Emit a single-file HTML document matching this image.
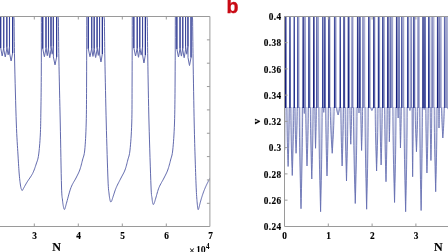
<!DOCTYPE html>
<html><head><meta charset="utf-8"><style>
html,body{margin:0;padding:0;background:#fff;}
body{width:448px;height:252px;overflow:hidden;position:relative;}
svg{position:absolute;left:0;top:0;}
.t{font-family:"Liberation Serif",serif;font-weight:bold;font-size:9.3px;fill:#000;stroke:#000;stroke-width:0.14px;}
</style></head><body>
<svg width="448" height="252" viewBox="0 0 448 252">
<defs>
<clipPath id="cl"><rect x="-100" y="16" width="309.9" height="210.5"/></clipPath>
<linearGradient id="wg" x1="0" y1="0" x2="0" y2="1"><stop offset="0" stop-color="#fff" stop-opacity="0.2"/><stop offset="0.5" stop-color="#fff" stop-opacity="0.06"/><stop offset="1" stop-color="#fff" stop-opacity="0"/></linearGradient>
<linearGradient id="vg" x1="0" y1="0" x2="0" y2="1"><stop offset="0" stop-color="rgb(228,230,242)"/><stop offset="0.6" stop-color="rgb(180,186,218)"/><stop offset="0.85" stop-color="rgb(130,140,195)"/><stop offset="1" stop-color="rgb(45,60,150)"/></linearGradient>
<clipPath id="cr"><rect x="284.5" y="16" width="320" height="210.5"/></clipPath>
</defs>
<g>
<g clip-path="url(#cl)">
<path d="M-0.5,0 L0.75,0 L0.75,48 L2,55.2 L2.2,56 L2.4,55.2 L3.65,48 L3.65,0 L3.75,0 L3.75,49 L5.05,56.2 L5.25,57 L5.45,56.2 L6.75,49 L6.75,0 L6.85,0 L6.85,46.8 L7.95,54 L8.15,54.8 L8.35,54 L9.45,46.8 L9.45,0 L9.55,0 L9.55,53 L10.9,60.2 L11.1,61 L11.3,60.2 L12.65,53 L12.65,0 L14.1,20 L14.13,22.93 L14.16,26.65 L14.2,31.06 L14.24,36.06 L14.3,41.56 L14.38,47.45 L14.48,53.63 L14.6,60 L14.76,66.99 L14.94,74.86 L15.15,83.3 L15.38,92 L15.61,100.63 L15.85,108.89 L16.08,116.45 L16.3,123 L16.52,128.57 L16.73,133.46 L16.96,137.8 L17.18,141.69 L17.39,145.24 L17.6,148.57 L17.81,151.79 L18,155 L18.18,158.14 L18.35,161.05 L18.52,163.77 L18.67,166.31 L18.83,168.69 L18.98,170.91 L19.14,173.01 L19.3,175 L19.46,176.85 L19.63,178.55 L19.8,180.09 L19.96,181.5 L20.13,182.78 L20.29,183.95 L20.45,185.02 L20.6,186 L20.75,186.86 L20.9,187.58 L21.04,188.18 L21.19,188.67 L21.33,189.08 L21.46,189.42 L21.58,189.72 L21.7,190 L21.8,190.23 L21.9,190.38 L21.98,190.47 L22.06,190.51 L22.13,190.5 L22.21,190.45 L22.3,190.38 L22.4,190.3 L22.49,190.22 L22.57,190.13 L22.64,190.02 L22.72,189.87 L22.82,189.67 L22.96,189.4 L23.15,189.05 L23.4,188.6 L23.71,188.04 L24.07,187.38 L24.47,186.65 L24.91,185.84 L25.39,184.97 L25.9,184.07 L26.44,183.14 L27,182.2 L27.62,181.23 L28.31,180.21 L29.04,179.14 L29.8,178.04 L30.56,176.92 L31.29,175.79 L31.98,174.64 L32.6,173.5 L33.15,172.35 L33.67,171.17 L34.15,169.97 L34.6,168.77 L35.03,167.56 L35.43,166.36 L35.82,165.17 L36.2,164 L36.56,162.93 L36.9,161.97 L37.22,161.07 L37.52,160.16 L37.8,159.16 L38.08,158.01 L38.34,156.65 L38.6,155 L38.85,153.06 L39.1,150.89 L39.34,148.53 L39.56,146 L39.77,143.35 L39.97,140.61 L40.14,137.81 L40.3,135 L40.43,132.22 L40.53,129.45 L40.61,126.65 L40.68,123.75 L40.74,120.69 L40.79,117.42 L40.84,113.88 L40.9,110 L40.96,105.92 L41.02,101.76 L41.08,97.42 L41.13,92.81 L41.18,87.86 L41.23,82.46 L41.27,76.54 L41.3,70 L41.33,62.21 L41.35,52.97 L41.36,42.87 L41.38,32.5 L41.38,22.44 L41.39,13.28 L41.39,5.61 L41.4,0 L42.8,0 L42.8,48.7 L44.17,55.9 L44.38,56.7 L44.58,55.9 L45.95,48.7 L45.95,0 L46.05,0 L46.05,47.7 L47.05,54.9 L47.25,55.7 L47.45,54.9 L48.45,47.7 L48.45,0 L48.55,0 L48.55,49.7 L49.55,56.9 L49.75,57.7 L49.95,56.9 L50.95,49.7 L50.95,0 L51.05,0 L51.05,46.2 L51.97,53.4 L52.17,54.2 L52.38,53.4 L53.3,46.2 L53.3,0 L53.4,0 L53.4,56.9 L54.83,64.1 L55.03,64.9 L55.23,64.1 L56.65,56.9 L56.65,0 L58.4,20 L58.43,22.93 L58.47,26.65 L58.51,31.06 L58.57,36.06 L58.63,41.56 L58.7,47.45 L58.79,53.63 L58.9,60 L59.03,66.77 L59.18,74.13 L59.35,81.94 L59.53,90.06 L59.71,98.36 L59.9,106.71 L60.08,114.97 L60.25,123 L60.41,131.21 L60.58,139.9 L60.74,148.78 L60.9,157.56 L61.05,165.96 L61.21,173.7 L61.36,180.47 L61.5,186 L61.64,190.15 L61.77,193.12 L61.9,195.17 L62.02,196.53 L62.14,197.45 L62.26,198.18 L62.38,198.94 L62.5,200 L62.62,201.2 L62.73,202.24 L62.85,203.15 L62.96,203.95 L63.07,204.66 L63.18,205.31 L63.29,205.92 L63.4,206.5 L63.5,207.05 L63.61,207.54 L63.71,207.98 L63.81,208.36 L63.9,208.68 L64,208.94 L64.1,209.15 L64.2,209.3 L64.29,209.41 L64.38,209.49 L64.46,209.51 L64.54,209.48 L64.63,209.38 L64.73,209.19 L64.85,208.9 L65,208.5 L65.16,208.01 L65.32,207.46 L65.5,206.83 L65.69,206.11 L65.91,205.27 L66.16,204.32 L66.45,203.23 L66.8,202 L67.2,200.54 L67.66,198.82 L68.16,196.93 L68.7,194.94 L69.26,192.92 L69.84,190.96 L70.42,189.13 L71,187.5 L71.6,186.06 L72.22,184.74 L72.87,183.51 L73.53,182.34 L74.18,181.23 L74.82,180.15 L75.43,179.08 L76,178 L76.54,176.94 L77.05,175.94 L77.54,174.98 L78.02,174.03 L78.47,173.08 L78.91,172.11 L79.34,171.09 L79.75,170 L80.15,168.85 L80.52,167.64 L80.88,166.4 L81.22,165.12 L81.55,163.84 L81.87,162.55 L82.19,161.26 L82.5,160 L82.81,158.87 L83.12,157.9 L83.42,157 L83.71,156.06 L83.99,155 L84.26,153.7 L84.51,152.06 L84.75,150 L84.98,147.55 L85.19,144.82 L85.4,141.82 L85.59,138.56 L85.77,135.04 L85.93,131.27 L86.07,127.26 L86.2,123 L86.3,118.64 L86.38,114.24 L86.44,109.67 L86.48,104.81 L86.51,99.54 L86.54,93.73 L86.57,87.25 L86.6,80 L86.64,71.22 L86.67,60.73 L86.7,49.19 L86.72,37.31 L86.75,25.77 L86.77,15.24 L86.79,6.42 L86.8,0 L88.3,0 L88.3,48.7 L89.77,55.9 L89.97,56.7 L90.17,55.9 L91.65,48.7 L91.65,0 L91.75,0 L91.75,48.4 L92.75,55.6 L92.95,56.4 L93.15,55.6 L94.15,48.4 L94.15,0 L94.25,0 L94.25,49.5 L95.45,56.7 L95.65,57.5 L95.85,56.7 L97.05,49.5 L97.05,0 L97.15,0 L97.15,47.4 L98.12,54.6 L98.32,55.4 L98.52,54.6 L99.5,47.4 L99.5,0 L99.6,0 L99.6,54 L100.75,61.2 L100.95,62 L101.15,61.2 L102.3,54 L102.3,0 L104.4,20 L104.43,22.93 L104.47,26.65 L104.51,31.06 L104.57,36.06 L104.63,41.56 L104.7,47.45 L104.79,53.63 L104.9,60 L105.03,66.82 L105.17,74.27 L105.33,82.2 L105.5,90.44 L105.68,98.8 L105.86,107.13 L106.06,115.25 L106.25,123 L106.45,130.71 L106.67,138.68 L106.91,146.7 L107.14,154.56 L107.37,162.04 L107.6,168.91 L107.81,174.97 L108,180 L108.17,183.86 L108.33,186.71 L108.47,188.75 L108.6,190.19 L108.73,191.23 L108.85,192.07 L108.98,192.93 L109.1,194 L109.22,195.16 L109.34,196.16 L109.46,197.01 L109.57,197.75 L109.68,198.39 L109.79,198.97 L109.89,199.5 L110,200 L110.1,200.46 L110.2,200.86 L110.3,201.18 L110.4,201.45 L110.5,201.66 L110.6,201.82 L110.7,201.93 L110.8,202 L110.9,202.03 L111,202.01 L111.1,201.94 L111.2,201.82 L111.31,201.65 L111.42,201.43 L111.55,201.14 L111.7,200.8 L111.86,200.4 L112.02,199.94 L112.19,199.43 L112.37,198.86 L112.57,198.23 L112.79,197.54 L113.03,196.8 L113.3,196 L113.59,195.12 L113.9,194.16 L114.23,193.13 L114.58,192.04 L114.95,190.92 L115.35,189.78 L115.79,188.64 L116.25,187.5 L116.76,186.35 L117.33,185.16 L117.93,183.94 L118.56,182.72 L119.19,181.5 L119.82,180.29 L120.43,179.12 L121,178 L121.54,176.94 L122.08,175.94 L122.61,174.98 L123.12,174.03 L123.62,173.08 L124.1,172.11 L124.56,171.09 L125,170 L125.41,168.85 L125.8,167.64 L126.16,166.4 L126.51,165.12 L126.85,163.84 L127.17,162.55 L127.49,161.26 L127.8,160 L128.11,158.87 L128.4,157.9 L128.69,157 L128.97,156.06 L129.23,155 L129.5,153.7 L129.75,152.06 L130,150 L130.25,147.55 L130.5,144.82 L130.75,141.82 L130.99,138.56 L131.22,135.04 L131.42,131.27 L131.6,127.26 L131.75,123 L131.86,118.64 L131.94,114.24 L131.99,109.67 L132.02,104.81 L132.04,99.54 L132.06,93.73 L132.07,87.25 L132.1,80 L132.13,71.22 L132.17,60.73 L132.19,49.19 L132.22,37.31 L132.25,25.77 L132.27,15.24 L132.29,6.42 L132.3,0 L133.9,0 L133.9,48 L135.35,55.2 L135.55,56 L135.75,55.2 L137.2,48 L137.2,0 L137.3,0 L137.3,49.3 L138.3,56.5 L138.5,57.3 L138.7,56.5 L139.7,49.3 L139.7,0 L139.8,0 L139.8,47.1 L140.95,54.3 L141.15,55.1 L141.35,54.3 L142.5,47.1 L142.5,0 L142.6,0 L142.6,55 L143.75,62.2 L143.95,63 L144.15,62.2 L145.3,55 L145.3,0 L147.3,20 L147.33,22.93 L147.37,26.65 L147.42,31.06 L147.48,36.06 L147.54,41.56 L147.61,47.45 L147.7,53.63 L147.8,60 L147.91,66.77 L148.03,74.13 L148.16,81.94 L148.31,90.06 L148.46,98.36 L148.63,106.71 L148.81,114.97 L149,123 L149.22,131.22 L149.47,139.95 L149.74,148.87 L150.01,157.69 L150.29,166.11 L150.55,173.84 L150.79,180.57 L151,186 L151.17,189.99 L151.33,192.75 L151.46,194.54 L151.58,195.62 L151.69,196.25 L151.79,196.69 L151.9,197.18 L152,198 L152.1,198.98 L152.2,199.82 L152.29,200.54 L152.38,201.16 L152.46,201.69 L152.54,202.16 L152.62,202.59 L152.7,203 L152.78,203.37 L152.85,203.69 L152.92,203.94 L152.99,204.14 L153.06,204.3 L153.13,204.4 L153.21,204.47 L153.3,204.5 L153.39,204.5 L153.49,204.46 L153.58,204.39 L153.69,204.27 L153.8,204.1 L153.92,203.86 L154.05,203.57 L154.2,203.2 L154.36,202.77 L154.51,202.3 L154.68,201.77 L154.86,201.17 L155.05,200.51 L155.27,199.76 L155.52,198.93 L155.8,198 L156.11,196.93 L156.45,195.72 L156.8,194.41 L157.19,193.02 L157.6,191.6 L158.04,190.18 L158.5,188.8 L159,187.5 L159.55,186.25 L160.15,185.02 L160.8,183.8 L161.47,182.59 L162.14,181.41 L162.8,180.25 L163.42,179.11 L164,178 L164.53,176.94 L165.05,175.94 L165.54,174.98 L166.01,174.03 L166.46,173.08 L166.91,172.11 L167.33,171.09 L167.75,170 L168.15,168.85 L168.54,167.64 L168.92,166.4 L169.27,165.12 L169.62,163.84 L169.96,162.55 L170.28,161.26 L170.6,160 L170.9,158.87 L171.2,157.9 L171.48,157 L171.74,156.06 L172,155 L172.26,153.7 L172.51,152.06 L172.75,150 L173,147.55 L173.24,144.82 L173.49,141.82 L173.72,138.56 L173.95,135.04 L174.15,131.27 L174.34,127.26 L174.5,123 L174.63,118.64 L174.74,114.24 L174.82,109.67 L174.89,104.81 L174.95,99.54 L175,93.73 L175.05,87.25 L175.1,80 L175.15,71.22 L175.2,60.73 L175.25,49.19 L175.29,37.31 L175.32,25.77 L175.35,15.24 L175.38,6.42 L175.4,0 L176.9,0 L176.9,49 L178.25,56.2 L178.45,57 L178.65,56.2 L180,49 L180,0 L180.1,0 L180.1,48.1 L181.2,55.3 L181.4,56.1 L181.6,55.3 L182.7,48.1 L182.7,0 L182.8,0 L182.8,49.7 L183.95,56.9 L184.15,57.7 L184.35,56.9 L185.5,49.7 L185.5,0 L185.6,0 L185.6,46.2 L186.55,53.4 L186.75,54.2 L186.95,53.4 L187.9,46.2 L187.9,0 L188,0 L188,57.5 L189.3,64.7 L189.5,65.5 L189.7,64.7 L191,57.5 L191,0 L192.6,20 L192.63,22.93 L192.68,26.65 L192.72,31.06 L192.78,36.06 L192.85,41.56 L192.92,47.45 L193.01,53.63 L193.1,60 L193.21,66.95 L193.34,74.74 L193.47,83.08 L193.62,91.69 L193.77,100.27 L193.92,108.54 L194.06,116.21 L194.2,123 L194.33,128.92 L194.45,134.24 L194.58,139.09 L194.7,143.56 L194.82,147.78 L194.95,151.85 L195.07,155.89 L195.2,160 L195.33,164.2 L195.47,168.39 L195.61,172.51 L195.76,176.5 L195.9,180.3 L196.04,183.86 L196.17,187.11 L196.3,190 L196.42,192.48 L196.54,194.6 L196.66,196.41 L196.77,197.98 L196.88,199.36 L196.99,200.62 L197.09,201.81 L197.2,203 L197.3,204.16 L197.41,205.22 L197.51,206.17 L197.61,207.03 L197.7,207.77 L197.8,208.4 L197.9,208.91 L198,209.3 L198.1,209.55 L198.19,209.65 L198.28,209.63 L198.38,209.49 L198.47,209.27 L198.57,208.99 L198.68,208.66 L198.8,208.3 L198.93,207.9 L199.05,207.42 L199.19,206.88 L199.33,206.28 L199.47,205.63 L199.63,204.94 L199.81,204.23 L200,203.5 L200.21,202.73 L200.43,201.9 L200.67,201.04 L200.92,200.14 L201.18,199.22 L201.45,198.3 L201.72,197.39 L202,196.5 L202.29,195.62 L202.59,194.73 L202.89,193.83 L203.21,192.94 L203.53,192.05 L203.85,191.18 L204.17,190.33 L204.5,189.5 L204.83,188.7 L205.16,187.91 L205.49,187.14 L205.83,186.39 L206.17,185.65 L206.51,184.92 L206.86,184.2 L207.2,183.5 L207.54,182.82 L207.86,182.17 L208.19,181.54 L208.52,180.92 L208.86,180.3 L209.21,179.66 L209.59,179 L210,178.3 L210.43,177.6 L210.87,176.94 L211.32,176.27 L211.8,175.58 L212.3,174.83 L212.83,174 L213.4,173.07 L214,172 L214.7,170.69 L215.5,169.12 L216.37,167.39 L217.25,165.61 L218.1,163.87 L218.88,162.29 L219.52,160.96 L220,160" fill="none" stroke="rgb(88,97,168)" stroke-width="0.95" stroke-linejoin="round"/>
<path d="M3.7,16 V48 M6.8,16 V46.8 M9.5,16 V46.8 M46,16 V47.7 M48.5,16 V47.7 M51,16 V46.2 M53.35,16 V46.2 M91.7,16 V48.4 M94.2,16 V48.4 M97.1,16 V47.4 M99.55,16 V47.4 M137.25,16 V48 M139.75,16 V47.1 M142.55,16 V47.1 M180.05,16 V48.1 M182.75,16 V48.1 M185.55,16 V46.2 M187.95,16 V46.2" fill="none" stroke="rgb(55,66,152)" stroke-width="0.8"/>
<path d="M0.7,16 V48 M12.7,16 V53 M42.75,16 V48.7 M56.7,16 V56.9 M88.25,16 V48.7 M102.35,16 V54 M133.85,16 V48 M145.35,16 V55 M176.85,16 V49 M191.05,16 V57.5" fill="none" stroke="rgb(30,42,140)" stroke-width="1.0"/>
</g>
<g clip-path="url(#cr)">
<g fill="url(#vg)" stroke="rgb(95,105,175)" stroke-width="0.8" stroke-linejoin="miter"><path d="M284.41,107 L284.41,111.3 L284.42,115.6 L284.44,119.9 L284.46,124.2 L284.48,128.5 L284.51,132.8 L284.54,137.1 L284.57,141.4 L284.61,145.7 L284.65,150 L284.71,145.7 L284.76,141.4 L284.8,137.1 L284.85,132.8 L284.88,128.5 L284.92,124.2 L284.94,119.9 L284.97,115.6 L284.98,111.3 L284.99,107"/><path d="M286.81,107 L286.84,112.95 L286.9,118.9 L286.98,124.85 L287.08,130.8 L287.21,136.75 L287.35,142.7 L287.51,148.65 L287.69,154.6 L287.89,160.55 L288.1,166.5 L288.3,160.55 L288.49,154.6 L288.66,148.65 L288.81,142.7 L288.95,136.75 L289.07,130.8 L289.17,124.85 L289.25,118.9 L289.3,112.95 L289.33,107"/><path d="M290.77,107 L290.8,113.85 L290.87,120.7 L290.96,127.55 L291.08,134.4 L291.23,141.25 L291.39,148.1 L291.58,154.95 L291.78,161.8 L292.01,168.65 L292.25,175.5 L292.49,168.65 L292.71,161.8 L292.91,154.95 L293.09,148.1 L293.25,141.25 L293.39,134.4 L293.51,127.55 L293.6,120.7 L293.66,113.85 L293.69,107"/><path d="M294.91,107 L294.93,111.63 L294.98,116.26 L295.06,120.89 L295.15,125.52 L295.26,130.15 L295.39,134.78 L295.53,139.41 L295.69,144.04 L295.86,148.67 L296.05,153.3 L296.26,148.67 L296.45,144.04 L296.62,139.41 L296.78,134.78 L296.92,130.15 L297.05,125.52 L297.15,120.89 L297.23,116.26 L297.29,111.63 L297.31,107"/><path d="M299.29,107 L299.32,117.17 L299.4,127.35 L299.51,137.53 L299.65,147.7 L299.81,157.88 L300.01,168.05 L300.22,178.22 L300.46,188.4 L300.72,198.57 L301,208.75 L301.27,198.57 L301.51,188.4 L301.74,178.22 L301.94,168.05 L302.13,157.88 L302.29,147.7 L302.42,137.53 L302.52,127.35 L302.6,117.17 L302.63,107"/><path d="M304.07,107 L304.08,107.65 L304.09,108.3 L304.1,108.95 L304.12,109.6 L304.14,110.25 L304.17,110.9 L304.2,111.55 L304.23,112.2 L304.26,112.85 L304.3,113.5 L304.33,112.85 L304.36,112.2 L304.39,111.55 L304.41,110.9 L304.43,110.25 L304.45,109.6 L304.47,108.95 L304.48,108.3 L304.49,107.65 L304.49,107"/><path d="M305.71,107 L305.73,112.9 L305.79,118.8 L305.87,124.7 L305.98,130.6 L306.11,136.5 L306.25,142.4 L306.41,148.3 L306.59,154.2 L306.79,160.1 L307,166 L307.23,160.1 L307.45,154.2 L307.64,148.3 L307.82,142.4 L307.98,136.5 L308.11,130.6 L308.23,124.7 L308.32,118.8 L308.38,112.9 L308.41,107"/><path d="M310.39,107 L310.42,114.2 L310.48,121.4 L310.57,128.6 L310.69,135.8 L310.82,143 L310.98,150.2 L311.16,157.4 L311.35,164.6 L311.57,171.8 L311.8,179 L312.02,171.8 L312.23,164.6 L312.42,157.4 L312.59,150.2 L312.74,143 L312.88,135.8 L312.99,128.6 L313.08,121.4 L313.14,114.2 L313.16,107"/><path d="M314.84,107 L314.85,111.13 L314.88,115.26 L314.93,119.39 L314.99,123.52 L315.06,127.65 L315.14,131.78 L315.23,135.91 L315.32,140.04 L315.43,144.17 L315.55,148.3 L315.69,144.17 L315.81,140.04 L315.93,135.91 L316.03,131.78 L316.13,127.65 L316.21,123.52 L316.28,119.39 L316.33,115.26 L316.37,111.13 L316.38,107"/><path d="M318.82,107 L318.85,117.47 L318.93,127.95 L319.05,138.43 L319.19,148.9 L319.37,159.38 L319.56,169.85 L319.79,180.32 L320.04,190.8 L320.31,201.28 L320.6,211.75 L320.86,201.28 L321.1,190.8 L321.32,180.32 L321.52,169.85 L321.69,159.38 L321.85,148.9 L321.98,138.43 L322.08,127.95 L322.15,117.47 L322.18,107"/><path d="M323.32,107 L323.33,107.54 L323.35,108.08 L323.38,108.62 L323.41,109.16 L323.45,109.7 L323.5,110.24 L323.55,110.78 L323.61,111.32 L323.68,111.86 L323.75,112.4 L323.83,111.86 L323.9,111.32 L323.97,110.78 L324.03,110.24 L324.08,109.7 L324.13,109.16 L324.17,108.62 L324.2,108.08 L324.22,107.54 L324.23,107"/><path d="M325.67,107 L325.7,113.9 L325.76,120.8 L325.84,127.7 L325.95,134.6 L326.08,141.5 L326.23,148.4 L326.4,155.3 L326.58,162.2 L326.78,169.1 L327,176 L327.23,169.1 L327.44,162.2 L327.64,155.3 L327.81,148.4 L327.97,141.5 L328.11,134.6 L328.22,127.7 L328.31,120.8 L328.37,113.9 L328.4,107"/><path d="M330.3,107 L330.34,111.63 L330.42,116.26 L330.55,120.89 L330.7,125.52 L330.88,130.15 L331.1,134.78 L331.34,139.41 L331.6,144.04 L331.89,148.67 L332.2,153.3 L332.52,148.67 L332.81,144.04 L333.09,139.41 L333.33,134.78 L333.55,130.15 L333.74,125.52 L333.9,120.89 L334.02,116.26 L334.11,111.63 L334.15,107"/><path d="M336.35,107 L336.39,107.8 L336.47,108.6 L336.58,109.4 L336.72,110.2 L336.89,111 L337.09,111.8 L337.31,112.6 L337.55,113.4 L337.81,114.2 L338.1,115 L338.36,114.2 L338.6,113.4 L338.82,112.6 L339.02,111.8 L339.19,111 L339.35,110.2 L339.48,109.4 L339.58,108.6 L339.65,107.8 L339.68,107"/><path d="M340.82,107 L340.85,112.9 L340.9,118.8 L340.99,124.7 L341.09,130.6 L341.21,136.5 L341.36,142.4 L341.52,148.3 L341.7,154.2 L341.89,160.1 L342.1,166 L342.32,160.1 L342.53,154.2 L342.72,148.3 L342.89,142.4 L343.04,136.5 L343.18,130.6 L343.29,124.7 L343.38,118.8 L343.44,112.9 L343.46,107"/><path d="M345.14,107 L345.16,114.4 L345.22,121.8 L345.31,129.2 L345.42,136.6 L345.56,144 L345.71,151.4 L345.88,158.8 L346.07,166.2 L346.28,173.6 L346.5,181 L346.73,173.6 L346.95,166.2 L347.14,158.8 L347.32,151.4 L347.48,144 L347.61,136.6 L347.73,129.2 L347.82,121.8 L347.88,114.4 L347.91,107"/><path d="M349.89,107 L349.91,110.72 L349.95,114.45 L350.01,118.17 L350.08,121.9 L350.17,125.62 L350.27,129.35 L350.39,133.07 L350.51,136.8 L350.65,140.53 L350.8,144.25 L350.94,140.53 L351.08,136.8 L351.2,133.07 L351.31,129.35 L351.41,125.62 L351.49,121.9 L351.56,118.17 L351.62,114.45 L351.66,110.72 L351.68,107"/><path d="M353.42,107 L353.46,116.65 L353.54,126.3 L353.66,135.95 L353.81,145.6 L353.99,155.25 L354.19,164.9 L354.42,174.55 L354.67,184.2 L354.95,193.85 L355.25,203.5 L355.55,193.85 L355.82,184.2 L356.07,174.55 L356.3,164.9 L356.51,155.25 L356.68,145.6 L356.83,135.95 L356.95,126.3 L357.03,116.65 L357.06,107"/><path d="M358.74,107 L358.74,107.6 L358.75,108.2 L358.77,108.8 L358.79,109.4 L358.82,110 L358.85,110.6 L358.88,111.2 L358.92,111.8 L358.96,112.4 L359,113 L359.04,112.4 L359.08,111.8 L359.11,111.2 L359.14,110.6 L359.17,110 L359.19,109.4 L359.21,108.8 L359.22,108.2 L359.24,107.6 L359.24,107"/><path d="M360.76,107 L360.78,111.35 L360.81,115.7 L360.87,120.05 L360.94,124.4 L361.02,128.75 L361.11,133.1 L361.22,137.45 L361.33,141.8 L361.46,146.15 L361.6,150.5 L361.76,146.15 L361.91,141.8 L362.05,137.45 L362.17,133.1 L362.28,128.75 L362.38,124.4 L362.46,120.05 L362.52,115.7 L362.56,111.35 L362.58,107"/><path d="M365.02,107 L365.05,117.22 L365.12,127.45 L365.23,137.68 L365.36,147.9 L365.52,158.12 L365.7,168.35 L365.91,178.57 L366.13,188.8 L366.38,199.03 L366.65,209.25 L366.91,199.03 L367.15,188.8 L367.38,178.57 L367.58,168.35 L367.76,158.12 L367.91,147.9 L368.04,137.68 L368.14,127.45 L368.22,117.22 L368.25,107"/><path d="M370.45,107 L370.48,107.35 L370.55,107.7 L370.64,108.05 L370.76,108.4 L370.9,108.75 L371.06,109.1 L371.24,109.45 L371.44,109.8 L371.66,110.15 L371.9,110.5 L372.13,110.15 L372.34,109.8 L372.54,109.45 L372.71,109.1 L372.87,108.75 L373.01,108.4 L373.12,108.05 L373.21,107.7 L373.27,107.35 L373.3,107"/><path d="M375.2,107 L375.23,113.4 L375.29,119.8 L375.38,126.2 L375.49,132.6 L375.63,139 L375.79,145.4 L375.96,151.8 L376.16,158.2 L376.37,164.6 L376.6,171 L376.83,164.6 L377.05,158.2 L377.24,151.8 L377.42,145.4 L377.58,139 L377.71,132.6 L377.83,126.2 L377.92,119.8 L377.98,113.4 L378.01,107"/><path d="M379.99,107 L380.01,112.8 L380.06,118.6 L380.13,124.4 L380.22,130.2 L380.33,136 L380.45,141.8 L380.59,147.6 L380.75,153.4 L380.92,159.2 L381.1,165 L381.29,159.2 L381.47,153.4 L381.63,147.6 L381.78,141.8 L381.91,136 L382.03,130.2 L382.12,124.4 L382.2,118.6 L382.25,112.8 L382.27,107"/><path d="M384.63,107 L384.66,114.47 L384.72,121.95 L384.81,129.43 L384.92,136.9 L385.05,144.38 L385.2,151.85 L385.38,159.32 L385.57,166.8 L385.78,174.28 L386,181.75 L386.21,174.28 L386.4,166.8 L386.57,159.32 L386.73,151.85 L386.87,144.38 L387,136.9 L387.1,129.43 L387.18,121.95 L387.24,114.47 L387.26,107"/><path d="M388.94,107 L388.94,110.47 L388.96,113.95 L388.99,117.42 L389.02,120.9 L389.06,124.38 L389.11,127.85 L389.16,131.32 L389.22,134.8 L389.28,138.28 L389.35,141.75 L389.45,138.28 L389.54,134.8 L389.63,131.32 L389.7,127.85 L389.77,124.38 L389.83,120.9 L389.88,117.42 L389.92,113.95 L389.94,110.47 L389.96,107"/><path d="M392.84,107 L392.88,116.55 L392.95,126.1 L393.06,135.65 L393.2,145.2 L393.37,154.75 L393.56,164.3 L393.77,173.85 L394.01,183.4 L394.27,192.95 L394.55,202.5 L394.8,192.95 L395.03,183.4 L395.24,173.85 L395.43,164.3 L395.6,154.75 L395.75,145.2 L395.87,135.65 L395.97,126.1 L396.03,116.55 L396.06,107"/><path d="M397.74,107 L397.74,108.1 L397.76,109.2 L397.79,110.3 L397.82,111.4 L397.86,112.5 L397.91,113.6 L397.96,114.7 L398.02,115.8 L398.08,116.9 L398.15,118 L398.21,116.9 L398.26,115.8 L398.31,114.7 L398.36,113.6 L398.4,112.5 L398.43,111.4 L398.46,110.3 L398.48,109.2 L398.5,108.1 L398.5,107"/><path d="M399.8,107 L399.81,111.1 L399.84,115.2 L399.88,119.3 L399.93,123.4 L400,127.5 L400.07,131.6 L400.15,135.7 L400.24,139.8 L400.34,143.9 L400.45,148 L400.59,143.9 L400.72,139.8 L400.85,135.7 L400.95,131.6 L401.05,127.5 L401.14,123.4 L401.21,119.3 L401.26,115.2 L401.3,111.1 L401.32,107"/><path d="M403.98,107 L404.01,117.47 L404.09,127.95 L404.2,138.43 L404.33,148.9 L404.49,159.38 L404.68,169.85 L404.89,180.32 L405.12,190.8 L405.38,201.28 L405.65,211.75 L405.91,201.28 L406.14,190.8 L406.36,180.32 L406.56,169.85 L406.73,159.38 L406.88,148.9 L407.01,138.43 L407.11,127.95 L407.18,117.47 L407.21,107"/><path d="M409.19,107 L409.2,107.35 L409.24,107.7 L409.29,108.05 L409.35,108.4 L409.42,108.75 L409.51,109.1 L409.6,109.45 L409.71,109.8 L409.83,110.15 L409.95,110.5 L410.06,110.15 L410.16,109.8 L410.26,109.45 L410.34,109.1 L410.42,108.75 L410.49,108.4 L410.54,108.05 L410.58,107.7 L410.61,107.35 L410.63,107"/><path d="M412.07,107 L412.08,113.97 L412.11,120.95 L412.15,127.92 L412.19,134.9 L412.25,141.88 L412.31,148.85 L412.39,155.82 L412.47,162.8 L412.56,169.78 L412.65,176.75 L412.76,169.78 L412.86,162.8 L412.95,155.82 L413.03,148.85 L413.1,141.88 L413.16,134.9 L413.22,127.92 L413.26,120.95 L413.29,113.97 L413.3,107"/><path d="M415.2,107 L415.22,111.47 L415.28,115.95 L415.36,120.42 L415.46,124.9 L415.58,129.38 L415.72,133.85 L415.88,138.32 L416.06,142.8 L416.25,147.28 L416.45,151.75 L416.66,147.28 L416.85,142.8 L417.02,138.32 L417.18,133.85 L417.32,129.38 L417.45,124.9 L417.55,120.42 L417.63,115.95 L417.69,111.47 L417.71,107"/><path d="M419.69,107 L419.72,117.35 L419.78,127.7 L419.87,138.05 L419.99,148.4 L420.12,158.75 L420.28,169.1 L420.46,179.45 L420.65,189.8 L420.87,200.15 L421.1,210.5 L421.32,200.15 L421.52,189.8 L421.7,179.45 L421.87,169.1 L422.02,158.75 L422.15,148.4 L422.26,138.05 L422.34,127.7 L422.4,117.35 L422.43,107"/><path d="M423.87,107 L423.88,107.25 L423.89,107.5 L423.9,107.75 L423.92,108 L423.94,108.25 L423.97,108.5 L424,108.75 L424.03,109 L424.06,109.25 L424.1,109.5 L424.14,109.25 L424.17,109 L424.2,108.75 L424.23,108.5 L424.26,108.25 L424.28,108 L424.3,107.75 L424.31,107.5 L424.32,107.25 L424.33,107"/><path d="M425.77,107 L425.8,113.6 L425.85,120.2 L425.92,126.8 L426.02,133.4 L426.13,140 L426.27,146.6 L426.41,153.2 L426.58,159.8 L426.76,166.4 L426.95,173 L427.16,166.4 L427.35,159.8 L427.52,153.2 L427.68,146.6 L427.82,140 L427.95,133.4 L428.05,126.8 L428.13,120.2 L428.19,113.6 L428.21,107"/><path d="M430.19,107 L430.2,112.35 L430.24,117.7 L430.29,123.05 L430.35,128.4 L430.42,133.75 L430.51,139.1 L430.6,144.45 L430.71,149.8 L430.83,155.15 L430.95,160.5 L431.09,155.15 L431.21,149.8 L431.33,144.45 L431.43,139.1 L431.53,133.75 L431.61,128.4 L431.68,123.05 L431.73,117.7 L431.77,112.35 L431.78,107"/><path d="M434.22,107 L434.25,115.47 L434.31,123.95 L434.41,132.43 L434.53,140.9 L434.67,149.38 L434.84,157.85 L435.03,166.32 L435.23,174.8 L435.46,183.28 L435.7,191.75 L435.92,183.28 L436.13,174.8 L436.32,166.32 L436.49,157.85 L436.64,149.38 L436.78,140.9 L436.89,132.43 L436.98,123.95 L437.04,115.47 L437.06,107"/><path d="M438.74,107 L438.74,109.1 L438.75,111.2 L438.77,113.3 L438.79,115.4 L438.82,117.5 L438.85,119.6 L438.88,121.7 L438.92,123.8 L438.96,125.9 L439,128 L439.06,125.9 L439.11,123.8 L439.16,121.7 L439.2,119.6 L439.24,117.5 L439.27,115.4 L439.3,113.3 L439.33,111.2 L439.34,109.1 L439.35,107"/><path d="M441.55,107 L441.58,110.1 L441.64,113.2 L441.72,116.3 L441.83,119.4 L441.95,122.5 L442.1,125.6 L442.26,128.7 L442.44,131.8 L442.64,134.9 L442.85,138 L443.09,134.9 L443.31,131.8 L443.51,128.7 L443.69,125.6 L443.86,122.5 L444,119.4 L444.12,116.3 L444.21,113.2 L444.27,110.1 L444.3,107"/><path d="M447.5,107 L447.52,107.3 L447.58,107.6 L447.66,107.9 L447.76,108.2 L447.88,108.5 L448.02,108.8 L448.18,109.1 L448.35,109.4 L448.54,109.7 L448.75,110 L448.9,109.7 L449.04,109.4 L449.17,109.1 L449.29,108.8 L449.39,108.5 L449.48,108.2 L449.56,107.9 L449.62,107.6 L449.66,107.3 L449.68,107"/></g>
</g>
</g>
<g clip-path="url(#cr)">
<g><rect x="283.15" y="0" width="1.3" height="108" fill="rgb(138,145,192)"/><rect x="283.15" y="0" width="1.3" height="108" fill="rgb(28,42,138)"/><rect x="284.85" y="0" width="2.1" height="108" fill="rgb(140,146,192)"/><rect x="284.85" y="0" width="1.3" height="108" fill="rgb(12,22,120)"/><rect x="289.25" y="0" width="1.6" height="108" fill="rgb(138,145,192)"/><rect x="289.25" y="0" width="1.3" height="108" fill="rgb(28,42,138)"/><rect x="293.65" y="0" width="1.3" height="108" fill="rgb(138,145,192)"/><rect x="293.65" y="0" width="1.3" height="108" fill="rgb(28,42,138)"/><rect x="297.15" y="0" width="2.3" height="108" fill="rgb(140,147,194)"/><rect x="297.15" y="0" width="1" height="108" fill="rgb(48,60,150)"/><rect x="302.55" y="0" width="1.6" height="108" fill="rgb(140,146,192)"/><rect x="302.55" y="0" width="1.3" height="108" fill="rgb(12,22,120)"/><rect x="304.45" y="0" width="1.3" height="108" fill="rgb(155,160,203)"/><rect x="304.45" y="0" width="1" height="108" fill="rgb(92,100,170)"/><rect x="308.25" y="0" width="2.3" height="108" fill="rgb(138,145,192)"/><rect x="308.25" y="0" width="1.3" height="108" fill="rgb(28,42,138)"/><rect x="313.05" y="0" width="1.9" height="108" fill="rgb(140,146,192)"/><rect x="313.05" y="0" width="1.3" height="108" fill="rgb(12,22,120)"/><rect x="316.15" y="0" width="2.9" height="108" fill="rgb(140,147,195)"/><rect x="316.15" y="0" width="1" height="108" fill="rgb(58,70,155)"/><rect x="322.15" y="0" width="1.2" height="108" fill="rgb(138,145,192)"/><rect x="322.15" y="0" width="1.3" height="108" fill="rgb(28,42,138)"/><rect x="324.15" y="0" width="1.6" height="108" fill="rgb(138,145,192)"/><rect x="324.15" y="0" width="1.3" height="108" fill="rgb(28,42,138)"/><rect x="328.25" y="0" width="2.2" height="108" fill="rgb(140,146,192)"/><rect x="328.25" y="0" width="1.3" height="108" fill="rgb(12,22,120)"/><rect x="333.95" y="0" width="2.6" height="108" fill="rgb(138,145,192)"/><rect x="333.95" y="0" width="1.3" height="108" fill="rgb(28,42,138)"/><rect x="339.65" y="0" width="1.2" height="108" fill="rgb(138,145,192)"/><rect x="339.65" y="0" width="1.3" height="108" fill="rgb(28,42,138)"/><rect x="343.35" y="0" width="1.9" height="108" fill="rgb(140,146,192)"/><rect x="343.35" y="0" width="1.3" height="108" fill="rgb(12,22,120)"/><rect x="347.75" y="0" width="2.3" height="108" fill="rgb(140,146,192)"/><rect x="347.75" y="0" width="1.3" height="108" fill="rgb(18,30,128)"/><rect x="351.55" y="0" width="2" height="108" fill="rgb(155,160,203)"/><rect x="351.55" y="0" width="1" height="108" fill="rgb(92,100,170)"/><rect x="356.95" y="0" width="1.9" height="108" fill="rgb(140,146,192)"/><rect x="356.95" y="0" width="1.3" height="108" fill="rgb(12,22,120)"/><rect x="359.15" y="0" width="1.7" height="108" fill="rgb(138,145,192)"/><rect x="359.15" y="0" width="1.3" height="108" fill="rgb(28,42,138)"/><rect x="362.35" y="0" width="2.9" height="108" fill="rgb(155,160,203)"/><rect x="362.35" y="0" width="1" height="108" fill="rgb(92,100,170)"/><rect x="368.05" y="0" width="2.6" height="108" fill="rgb(140,146,192)"/><rect x="368.05" y="0" width="1.3" height="108" fill="rgb(18,30,128)"/><rect x="373.15" y="0" width="2.2" height="108" fill="rgb(140,146,192)"/><rect x="373.15" y="0" width="1.3" height="108" fill="rgb(18,30,128)"/><rect x="377.85" y="0" width="2.3" height="108" fill="rgb(138,145,192)"/><rect x="377.85" y="0" width="1.3" height="108" fill="rgb(28,42,138)"/><rect x="382.05" y="0" width="2.8" height="108" fill="rgb(138,145,192)"/><rect x="382.05" y="0" width="1.3" height="108" fill="rgb(28,42,138)"/><rect x="387.15" y="0" width="1.9" height="108" fill="rgb(140,146,192)"/><rect x="387.15" y="0" width="1.3" height="108" fill="rgb(12,22,120)"/><rect x="389.65" y="0" width="3.5" height="108" fill="rgb(140,147,195)"/><rect x="389.65" y="0" width="1" height="108" fill="rgb(58,70,155)"/><rect x="395.95" y="0" width="1.9" height="108" fill="rgb(140,146,192)"/><rect x="395.95" y="0" width="1.3" height="108" fill="rgb(12,22,120)"/><rect x="398.45" y="0" width="1.4" height="108" fill="rgb(140,147,194)"/><rect x="398.45" y="0" width="1" height="108" fill="rgb(48,60,150)"/><rect x="401.05" y="0" width="3.2" height="108" fill="rgb(140,147,195)"/><rect x="401.05" y="0" width="1" height="108" fill="rgb(58,70,155)"/><rect x="407.05" y="0" width="2.3" height="108" fill="rgb(138,145,192)"/><rect x="407.05" y="0" width="1.3" height="108" fill="rgb(28,42,138)"/><rect x="410.55" y="0" width="1.6" height="108" fill="rgb(155,160,203)"/><rect x="410.55" y="0" width="1" height="108" fill="rgb(92,100,170)"/><rect x="413.15" y="0" width="2.2" height="108" fill="rgb(138,145,192)"/><rect x="413.15" y="0" width="1.3" height="108" fill="rgb(28,42,138)"/><rect x="417.55" y="0" width="2.3" height="108" fill="rgb(155,160,203)"/><rect x="417.55" y="0" width="1" height="108" fill="rgb(92,100,170)"/><rect x="422.35" y="0" width="1.6" height="108" fill="rgb(140,146,192)"/><rect x="422.35" y="0" width="1.3" height="108" fill="rgb(12,22,120)"/><rect x="424.25" y="0" width="1.6" height="108" fill="rgb(138,145,192)"/><rect x="424.25" y="0" width="1.3" height="108" fill="rgb(28,42,138)"/><rect x="428.05" y="0" width="2.3" height="108" fill="rgb(138,145,192)"/><rect x="428.05" y="0" width="1.3" height="108" fill="rgb(28,42,138)"/><rect x="431.55" y="0" width="2.9" height="108" fill="rgb(155,160,203)"/><rect x="431.55" y="0" width="1" height="108" fill="rgb(92,100,170)"/><rect x="436.95" y="0" width="1.9" height="108" fill="rgb(140,146,192)"/><rect x="436.95" y="0" width="1.3" height="108" fill="rgb(12,22,120)"/><rect x="439.15" y="0" width="2.6" height="108" fill="rgb(155,160,203)"/><rect x="439.15" y="0" width="1" height="108" fill="rgb(92,100,170)"/><rect x="443.95" y="0" width="3.9" height="108" fill="rgb(140,147,195)"/><rect x="443.95" y="0" width="1" height="108" fill="rgb(58,70,155)"/><rect x="449.65" y="0" width="1.2" height="108" fill="rgb(138,145,192)"/><rect x="449.65" y="0" width="1.3" height="108" fill="rgb(28,42,138)"/></g>
<rect x="284" y="16" width="170" height="92" fill="url(#wg)"/>
</g>
<g fill="none" stroke="#9a9a9a" stroke-width="1">
<path d="M-100,16.5 H209.9 V226.5 H-100"/>
<path d="M284.5,16.5 V226.5 H600 M284.5,16.5 H600"/>
<path d="M34.3,226.5 v-3 M34.3,16.5 v3 M78.3,226.5 v-3 M78.3,16.5 v3 M122.3,226.5 v-3 M122.3,16.5 v3 M166.3,226.5 v-3 M166.3,16.5 v3 M209.9,39.85 h-3 M209.9,63.2 h-3 M209.9,86.55 h-3 M209.9,109.9 h-3 M209.9,133.25 h-3 M209.9,156.6 h-3 M209.9,179.95 h-3 M209.9,203.3 h-3 M284.5,42.65 h3 M284.5,68.9 h3 M284.5,95.15 h3 M284.5,121.4 h3 M284.5,147.65 h3 M284.5,173.9 h3 M284.5,200.15 h3 M328.3,226.5 v-3 M328.3,16.5 v3 M372.1,226.5 v-3 M372.1,16.5 v3 M415.9,226.5 v-3 M415.9,16.5 v3"/>
</g>
<g class="t">
<text x="34.6" y="238.7" text-anchor="middle">3</text><text x="78.5" y="238.7" text-anchor="middle">4</text><text x="122.5" y="238.7" text-anchor="middle">5</text><text x="166.5" y="238.7" text-anchor="middle">6</text><text x="210.5" y="238.7" text-anchor="middle">7</text>
<text x="284.7" y="238.7" text-anchor="middle">0</text><text x="328.5" y="238.7" text-anchor="middle">1</text><text x="372.3" y="238.7" text-anchor="middle">2</text><text x="416.1" y="238.7" text-anchor="middle">3</text>
<text x="281.5" y="20.2" text-anchor="end" letter-spacing="0.4">0.4</text><text x="281.5" y="46.45" text-anchor="end" letter-spacing="0.4">0.38</text><text x="281.5" y="72.7" text-anchor="end" letter-spacing="0.4">0.36</text><text x="281.5" y="98.95" text-anchor="end" letter-spacing="0.4">0.34</text><text x="281.5" y="125.2" text-anchor="end" letter-spacing="0.4">0.32</text><text x="281.5" y="151.45" text-anchor="end" letter-spacing="0.4">0.3</text><text x="281.5" y="177.7" text-anchor="end" letter-spacing="0.4">0.28</text><text x="281.5" y="203.95" text-anchor="end" letter-spacing="0.4">0.26</text><text x="281.5" y="230.2" text-anchor="end" letter-spacing="0.4">0.24</text>
<text x="56.7" y="250.8" text-anchor="middle" style="font-size:12px">N</text>
<text x="438.4" y="250.8" text-anchor="middle" style="font-size:12px">N</text>
<text x="257.2" y="121.5" text-anchor="middle" transform="rotate(-90 257.2 121.5)" dy="3" style="font-size:11px">v</text>
</g>
<text x="189" y="254.2" style="font-family:'Liberation Serif',serif;font-size:10.5px;font-weight:bold;fill:#000">×</text>
<text x="195.9" y="252.9" style="font-family:'Liberation Serif',serif;font-size:9.9px;font-weight:bold;fill:#000">10</text>
<text x="206" y="248.5" style="font-family:'Liberation Serif',serif;font-size:7.2px;font-weight:bold;fill:#000">4</text>
<text x="226.4" y="12.9" style="font-family:'Liberation Sans',sans-serif;font-weight:bold;font-size:19.6px;fill:#c90a14;stroke:#c90a14;stroke-width:0.35px">b</text>
</svg>
</body></html>
